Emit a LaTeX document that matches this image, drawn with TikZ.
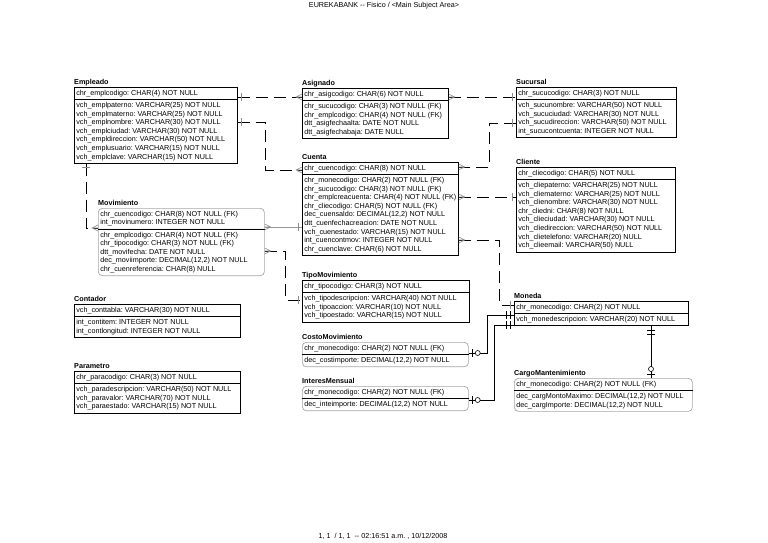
\documentclass[tikz,border=0pt]{standalone}
\usepackage{fontspec}
\setmainfont{Liberation Sans}
\usepackage{tikz}
\usetikzlibrary{shapes.multipart,positioning,calc}
\tikzset{
  crowft/.pic={\draw[endmk] (0,-3) -- (6,0) -- (0,3) (0,0) -- (6,0);},
  onetick/.pic={\draw[endmk] (4,-4) -- (4,4);},
  dbltick/.pic={\draw[endmkd] (4,-4) -- (4,4) (8,-4) -- (8,4);},
  zeroone/.pic={\draw[endmkd] (4,-4) -- (4,4); \draw[endmkd, fill=white] (9,0) circle (2.5pt);},
}

\begin{document}
\frenchspacing
\begin{tikzpicture}[x=1pt, y=-1pt, font=\fontsize{7.2}{8.6}\selectfont,
  entity/.style={draw, line width=0.7pt, rectangle split, rectangle split parts=2,
    rectangle split part align=left, anchor=north west, align=left,
    inner xsep=2pt, inner ysep=2.4pt},
  weak/.style={entity, rounded corners=4pt, draw=black!35},
  etitle/.style={font=\fontsize{7.2}{8.6}\selectfont\bfseries, inner sep=0pt, text depth=0pt},
  sepline/.style={line width=0.9pt},
  rel/.style={line width=0.8pt, dash pattern=on 12pt off 6pt},
  idrel/.style={line width=0.8pt},
  endmk/.style={black!45, line width=0.6pt, solid},
  endmkd/.style={black, line width=0.6pt, solid}]
  \useasboundingbox (0,0) rectangle (768,543);
  % page header and footer
  \node[anchor=base] (hdr) at (384,8) {EUREKABANK -{}- Fisico / <Main Subject Area>};
  \node[anchor=base] (ftr) at (383,538) {1, 1 \ / 1, 1 \ -{}- 02:16:51 a.m. , 10/12/2008};
  % row 1
  \node[entity, minimum width=163pt] (emp) at (74,87) {chr\_emplcodigo: CHAR(4) NOT NULL
    \nodepart{second} vch\_emplpaterno: VARCHAR(25) NOT NULL\\ vch\_emplmaterno: VARCHAR(25) NOT NULL\\
    vch\_emplnombre: VARCHAR(30) NOT NULL\\ vch\_emplciudad: VARCHAR(30) NOT NULL\\
    vch\_empldireccion: VARCHAR(50) NOT NULL\\ vch\_emplusuario: VARCHAR(15) NOT NULL\\
    vch\_emplclave: VARCHAR(15) NOT NULL};
  \node[entity, minimum width=146pt] (asig) at (302,88) {chr\_asigcodigo: CHAR(6) NOT NULL
    \nodepart{second} chr\_sucucodigo: CHAR(3) NOT NULL (FK)\\ chr\_emplcodigo: CHAR(4) NOT NULL (FK)\\
    dtt\_asigfechaalta: DATE NOT NULL\\ dtt\_asigfechabaja: DATE NULL};
  \node[entity, minimum width=160pt] (suc) at (516,87) {chr\_sucucodigo: CHAR(3) NOT NULL
    \nodepart{second} vch\_sucunombre: VARCHAR(50) NOT NULL\\ vch\_sucuciudad: VARCHAR(30) NOT NULL\\
    vch\_sucudireccion: VARCHAR(50) NOT NULL\\ int\_sucucontcuenta: INTEGER NOT NULL};
  % row 2
  \node[entity, minimum width=146pt] (cue) at (302,162) {chr\_cuencodigo: CHAR(8) NOT NULL
    \nodepart{second} chr\_monecodigo: CHAR(2) NOT NULL (FK)\\ chr\_sucucodigo: CHAR(3) NOT NULL (FK)\\
    chr\_emplcreacuenta: CHAR(4) NOT NULL (FK)\\ chr\_cliecodigo: CHAR(5) NOT NULL (FK)\\
    dec\_cuensaldo: DECIMAL(12,2) NOT NULL\\ dtt\_cuenfechacreacion: DATE NOT NULL\\
    vch\_cuenestado: VARCHAR(15) NOT NULL\\ int\_cuencontmov: INTEGER NOT NULL\\
    chr\_cuenclave: CHAR(6) NOT NULL};
  \node[entity, minimum width=159pt] (cli) at (516,167) {chr\_cliecodigo: CHAR(5) NOT NULL
    \nodepart{second} vch\_cliepaterno: VARCHAR(25) NOT NULL\\ vch\_cliematerno: VARCHAR(25) NOT NULL\\
    vch\_clienombre: VARCHAR(30) NOT NULL\\ chr\_cliedni: CHAR(8) NOT NULL\\
    vch\_clieciudad: VARCHAR(30) NOT NULL\\ vch\_cliedireccion: VARCHAR(50) NOT NULL\\
    vch\_clietelefono: VARCHAR(20) NULL\\ vch\_clieemail: VARCHAR(50) NULL};
  \node[weak, minimum width=166pt] (mov) at (98,208) {chr\_cuencodigo: CHAR(8) NOT NULL (FK)\\ int\_movinumero: INTEGER NOT NULL
    \nodepart{second} chr\_emplcodigo: CHAR(4) NOT NULL (FK)\\ chr\_tipocodigo: CHAR(3) NOT NULL (FK)\\
    dtt\_movifecha: DATE NOT NULL\\ dec\_moviimporte: DECIMAL(12,2) NOT NULL\\
    chr\_cuenreferencia: CHAR(8) NULL};
  % row 3
  \node[entity, minimum width=167pt] (tip) at (302,280) {chr\_tipocodigo: CHAR(3) NOT NULL
    \nodepart{second} vch\_tipodescripcion: VARCHAR(40) NOT NULL\\ vch\_tipoaccion: VARCHAR(10) NOT NULL\\
    vch\_tipoestado: VARCHAR(15) NOT NULL};
  \node[weak, minimum width=166pt] (cmo) at (302,342) {chr\_monecodigo: CHAR(2) NOT NULL (FK)
    \nodepart{second} dec\_costimporte: DECIMAL(12,2) NOT NULL};
  \node[weak, minimum width=166pt] (ime) at (302,386) {chr\_monecodigo: CHAR(2) NOT NULL (FK)
    \nodepart{second} dec\_inteimporte: DECIMAL(12,2) NOT NULL};
  \node[entity, minimum width=174pt] (mon) at (514,301) {chr\_monecodigo: CHAR(2) NOT NULL
    \nodepart{second} vch\_monedescripcion: VARCHAR(20) NOT NULL};
  \node[weak, minimum width=178pt] (cma) at (514,378) {chr\_monecodigo: CHAR(2) NOT NULL (FK)
    \nodepart{second} dec\_cargMontoMaximo: DECIMAL(12,2) NOT NULL\\ dec\_cargImporte: DECIMAL(12,2) NOT NULL};
  \node[entity, minimum width=166pt] (cnt) at (74,304) {vch\_conttabla: VARCHAR(30) NOT NULL
    \nodepart{second} int\_contitem: INTEGER NOT NULL\\ int\_contlongitud: INTEGER NOT NULL};
  \node[entity, minimum width=166pt] (par) at (74,371) {chr\_paracodigo: CHAR(3) NOT NULL
    \nodepart{second} vch\_paradescripcion: VARCHAR(50) NOT NULL\\ vch\_paravalor: VARCHAR(70) NOT NULL\\
    vch\_paraestado: VARCHAR(15) NOT NULL};
  % titles
  \foreach \n/\t in {emp/Empleado, asig/Asignado, suc/Sucursal, cue/Cuenta, cli/Cliente,
      mov/Movimiento, tip/TipoMovimiento, cmo/CostoMovimiento, ime/InteresMensual,
      mon/Moneda, cma/CargoMantenimiento, cnt/Contador, par/Parametro}
    {\node[etitle, above right=2.5pt and 0pt of \n.north west] (\n-t) {\t};}
  \foreach \n in {mov,cmo,ime,cma}
    {\draw[sepline] (\n.text split west) -- (\n.text split east);}
  % relationships
  \draw[rel] (emp.east |- 0,97) -- (asig.west |- 0,97);
  \pic at (emp.east |- 0,97) {onetick};
  \pic[rotate=180] at (asig.west |- 0,97) {crowft};
  \draw[rel] (asig.east |- 0,97) -- (suc.west |- 0,97);
  \pic at (asig.east |- 0,97) {crowft};
  \pic[rotate=180] at (suc.west |- 0,97) {onetick};
  \draw[rel] (emp.east |- 0,122) -- ++(28,0) |- (cue.west |- 0,170);
  \pic at (emp.east |- 0,122) {onetick};
  \pic[rotate=180] at (cue.west |- 0,170) {crowft};
  \draw[rel] (suc.west |- 0,123) -- ++(-27,0) |- (cue.east |- 0,167);
  \pic[rotate=180] at (suc.west |- 0,123) {onetick};
  \pic at (cue.east |- 0,167) {crowft};
  \draw[rel] (cue.east |- 0,197) -- (cli.west |- 0,197);
  \pic at (cue.east |- 0,197) {crowft};
  \pic[rotate=180] at (cli.west |- 0,197) {onetick};
  \draw[idrel, black!40, line width=0.6pt] (cue.west |- 0,227) -- (mov.east |- 0,227);
  \pic[rotate=180] at (cue.west |- 0,227) {onetick};
  \pic at (mov.east |- 0,227) {crowft};
  \draw[rel] (emp.south -| 86,0) |- (mov.west |- 0,228);
  \pic[rotate=-90] at (emp.south -| 86,0) {onetick};
  \pic[rotate=180] at (mov.west |- 0,228) {crowft};
  \draw[rel] (mov.east |- 0,251) -- ++(21,0) |- (tip.west |- 0,300);
  \pic at (mov.east |- 0,251) {crowft};
  \pic[rotate=180] at (tip.west |- 0,300) {onetick};
  \draw[rel] (cue.east |- 0,240) -- ++(41,0) |- (mon.west |- 0,305);
  \pic at (cue.east |- 0,240) {crowft};
  \pic[rotate=180] at (mon.west |- 0,305) {onetick};
  \draw[idrel] (cmo.east |- 0,353) -- ++(19,0) |- (mon.west |- 0,315);
  \pic at (cmo.east |- 0,353) {zeroone};
  \pic[rotate=180] at (mon.west |- 0,315) {dbltick};
  \draw[idrel] (ime.east |- 0,400) -- ++(26,0) |- (mon.west |- 0,325);
  \pic at (ime.east |- 0,400) {zeroone};
  \pic[rotate=180] at (mon.west |- 0,325) {dbltick};
  \draw[idrel] (mon.south -| 651,0) -- (cma.north -| 651,0);
  \pic[rotate=-90] at (mon.south -| 651,0) {dbltick};
  \pic[rotate=90] at (cma.north -| 651,0) {zeroone};
\end{tikzpicture}
\end{document}
